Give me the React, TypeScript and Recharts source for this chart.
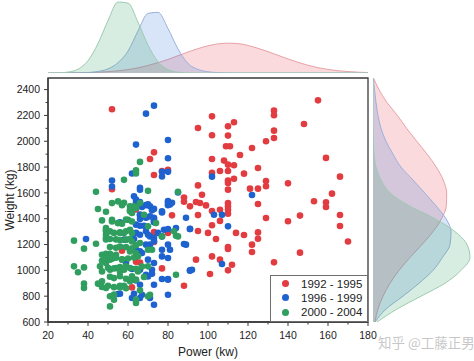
import React from 'react'
import {
  ScatterChart,
  Scatter,
  XAxis,
  YAxis,
  ReferenceArea,
  Legend,
  Label,
  AreaChart,
  Area,
} from 'recharts'

// [power (kw), weight (kg)]
const group1992: [number, number][] = [
  [155, 2317], [133, 2237], [133, 2201], [102, 2193], [148, 2134], [95, 2103], [110, 2116], [113, 2147],
  [102, 2046], [110, 2044], [133, 2082], [133, 2025], [129, 2000], [122, 1948], [109, 1961], [111, 1961],
  [102, 1863], [116, 1894], [108, 1850], [110, 1819], [113, 1814], [110, 1770], [125, 1793], [159, 1871],
  [106, 1770], [102, 1755], [118, 1749], [113, 1710], [110, 1695], [110, 1677], [110, 1625], [95, 1658],
  [97, 1586], [121, 1633], [125, 1633], [129, 1692], [129, 1651], [140, 1674], [166, 1726], [162, 1594],
  [73, 1914], [71, 1863], [73, 1739], [77, 1770], [80, 1778], [52, 2248], [52, 1628],
  [88, 1564], [88, 1532], [91, 1496], [94, 1530], [96, 1522], [99, 1503], [82, 1426], [95, 1428],
  [95, 1305], [80, 1290], [73, 1297], [73, 1220], [100, 1290], [94, 1083], [88, 881], [77, 1015],
  [101, 972], [64, 1472], [57, 1152], [64, 1067], [66, 1060], [62, 868],
  [110, 1522], [110, 1496], [110, 1470], [110, 1439], [102, 1460], [106, 1470], [125, 1514], [153, 1535],
  [159, 1527], [159, 1491], [146, 1424], [166, 1429], [129, 1406], [140, 1380], [166, 1344], [102, 1349],
  [106, 1383], [114, 1290], [118, 1274], [125, 1294], [125, 1245], [104, 1243], [110, 1181], [110, 1165],
  [122, 1199], [122, 1142], [146, 1137], [170, 1224], [102, 1108], [106, 1083], [112, 1044], [110, 1000],
  [133, 1062],
]

const group1996: [number, number][] = [
  [73, 2276], [69, 2214], [64, 1974], [80, 2010], [80, 1868], [52, 1696], [52, 1649], [62, 1750],
  [77, 1763], [80, 1763], [77, 1727], [66, 1639], [66, 1624], [85, 1603], [102, 1726], [122, 1584],
  [63, 1574], [64, 1523], [66, 1505], [69, 1505], [71, 1497], [73, 1476], [77, 1458], [80, 1505],
  [80, 1536], [82, 1523], [89, 1407], [69, 1407], [73, 1407], [73, 1381], [66, 1433], [56, 1373],
  [80, 1522], [81, 1511], [72, 1465], [73, 1398], [73, 1372], [77, 1449], [91, 1320], [78, 1315],
  [80, 1320], [84, 1328], [75, 1290], [77, 1263], [73, 1251], [71, 1263], [73, 1225], [71, 1199],
  [80, 1199], [81, 1160], [77, 1160], [77, 1108], [80, 1096], [89, 1199], [73, 1057], [70, 1083],
  [72, 1005], [72, 974], [77, 933], [80, 933], [73, 889], [92, 1005], [80, 811], [73, 734],
  [71, 786], [64, 1548], [66, 1530], [67, 1491], [70, 1511], [66, 1424], [66, 1398], [69, 1411],
  [71, 1418], [64, 1354], [66, 1346], [68, 1346], [64, 1290], [66, 1276], [69, 1302], [70, 1276],
  [58, 1238], [63, 1243], [64, 1160], [66, 1147], [67, 1134], [69, 1199], [70, 1186], [59, 1057],
  [62, 1011], [66, 1005], [69, 966], [70, 953], [64, 922], [66, 889], [56, 819], [67, 811],
  [66, 786], [62, 786], [39, 1243], [55, 817], [63, 819], [80, 928], [91, 997], [103, 1431],
  [107, 1431], [110, 1341], [107, 1049], [91, 1321], [88, 1204], [91, 1000],
]

const group2000: [number, number][] = [
  [33, 1230], [38, 1168], [33, 1031], [35, 985], [38, 1023], [38, 897], [38, 863], [44, 1206],
  [45, 1475], [49, 1454], [47, 1387], [49, 1328], [49, 1302], [49, 1276], [49, 1250], [52, 1521],
  [55, 1534], [52, 1392], [55, 1366], [56, 1294], [58, 1289], [47, 1121], [49, 1129], [51, 1129],
  [54, 1121], [47, 1075], [49, 1057], [51, 1083], [46, 1031], [47, 992], [51, 1005], [54, 1018],
  [56, 992], [58, 1005], [45, 897], [47, 871], [49, 863], [50, 881], [47, 915], [53, 773],
  [51, 721], [56, 881], [58, 881], [61, 915], [62, 954], [64, 928], [64, 773], [64, 747],
  [66, 845], [70, 799], [68, 948], [60, 1392], [62, 1379], [61, 1470], [63, 1496], [66, 1521],
  [68, 1431], [59, 1237], [62, 1224], [61, 1147], [64, 1134], [57, 1083], [59, 1031], [65, 992],
  [70, 1031], [66, 1212], [70, 1160], [70, 1341], [74, 1366], [77, 1263], [84, 1268], [44, 1608],
  [58, 1701], [66, 1840], [64, 1776], [64, 1750], [70, 1616], [85, 1608], [58, 1523], [57, 1505],
  [61, 1497], [64, 1484], [61, 1457], [62, 1444], [52, 1379], [55, 1367], [57, 1362], [59, 1393],
  [49, 1315], [51, 1302], [53, 1290], [56, 1290], [59, 1302], [61, 1315], [62, 1290], [49, 1240],
  [51, 1243], [54, 1240], [56, 1235], [59, 1238], [61, 1243], [51, 1180], [54, 1175], [56, 1185],
  [59, 1180], [62, 1170], [64, 1195], [49, 1095], [52, 1090], [54, 1098], [57, 1085], [60, 1092],
  [63, 1100], [65, 1110], [50, 1020], [53, 1015], [56, 1025], [58, 1010], [61, 1018], [64, 1012],
  [67, 1030], [51, 950], [53, 940], [56, 955], [59, 935], [62, 945], [53, 870], [56, 868],
  [59, 862], [51, 800], [53, 812], [83, 1302], [85, 1263], [72, 1160], [84, 966], [71, 811],
]

const seriesNames = ['1992 - 1995', '1996 - 1999', '2000 - 2004']
const seriesColors = ['#e23b40', '#1d62cf', '#2f9e5e']
const densityFill = ['#e8464e', '#3c78d8', '#3aa56a']
const densityStroke = ['#e8a2a8', '#9cb1dc', '#9ccbaf']

const xTicks = [20, 30, 40, 50, 60, 70, 80, 90, 100, 110, 120, 130, 140, 150, 160, 170, 180]
const yTicks = [600, 700, 800, 900, 1000, 1100, 1200, 1300, 1400, 1500, 1600, 1700, 1800, 1900, 2000, 2100, 2200, 2300, 2400]

// marginal density along power (top panel)
const topPower = [20, 25, 30, 35, 40, 45, 50, 55, 60, 65, 70, 75, 80, 85, 90, 95, 100, 105, 110, 115, 120, 125, 130, 135, 140, 145, 150, 155, 160, 165, 170, 175, 180]
const topDensity1992 = [0.05, 0.08, 0.12, 0.25, 0.43, 0.8, 1.3, 2.1, 3.3, 5, 7.3, 10.1, 13.2, 16.8, 20.4, 23.7, 26.5, 28.3, 29, 28.6, 26.8, 24, 20.8, 17.2, 13.7, 10.4, 7.5, 5.2, 3.5, 2.2, 1.4, 0.8, 0.46]
const topDensity1996 = [0, 0, 0.05, 0.15, 0.4, 1.5, 4, 10, 21.3, 40.9, 58, 59, 43.3, 23.4, 9.3, 3.5, 1.2, 0.4, 0.1, 0, 0, 0, 0, 0, 0, 0, 0, 0, 0, 0, 0, 0, 0]
const topDensity2000 = [0, 0.15, 0.9, 3.7, 12, 28.6, 51, 69, 68, 49.3, 27, 11, 3.3, 0.8, 0.1, 0, 0, 0, 0, 0, 0, 0, 0, 0, 0, 0, 0, 0, 0, 0, 0, 0, 0]

// marginal density along weight (right panel)
const sideWeight = [600, 700, 800, 900, 1000, 1100, 1200, 1300, 1400, 1500, 1600, 1700, 1800, 1900, 2000, 2100, 2200, 2300, 2400, 2490]
const sideDensity1992 = [2, 5, 10, 17, 26, 37, 49, 60, 68.5, 73.3, 73.7, 70.2, 63.3, 54.1, 43.8, 33.6, 24.4, 14, 6, 0.5]
const sideDensity1996 = [2, 13, 30, 46, 60, 69.5, 77, 78, 73, 63, 51.7, 40, 28, 20, 13, 8, 5, 3, 1.5, 0.3]
const sideDensity2000 = [4, 24, 48, 72, 88, 97, 94, 82, 62, 36, 17, 8, 3, 1, 0.3, 0, 0, 0, 0, 0]

const groups = [group1992, group1996, group2000].map((g) => g.map(([power, weight]) => ({ power, weight })))

const topData = topPower.map((p, i) => ({ p, a: topDensity1992[i], b: topDensity1996[i], c: topDensity2000[i] }))
const sideData = sideWeight.map((w, i) => ({ w, a: sideDensity1992[i], b: sideDensity1996[i], c: sideDensity2000[i] }))

const axisColor = '#3a3a3a'
const textColor = '#222'

function XTick(props: any) {
  const { x, y, payload } = props
  const major = payload.value % 20 === 0
  return (
    <g>
      <line x1={x} x2={x} y1={y} y2={y + (major ? 4 : 2.5)} stroke={axisColor} />
      {major && (
        <text x={x} y={y + 16.5} textAnchor="middle" fontSize={10.5} fill={textColor}>
          {payload.value}
        </text>
      )}
    </g>
  )
}

function YTick(props: any) {
  const { x, y, payload } = props
  const major = payload.value % 200 === 0
  return (
    <g>
      <line x1={x - (major ? 4 : 2.5)} x2={x} y1={y} y2={y} stroke={axisColor} />
      {major && (
        <text x={x - 8} y={y} dy="0.36em" textAnchor="end" fontSize={10.5} fill={textColor}>
          {payload.value}
        </text>
      )}
    </g>
  )
}

function LegendBox(props: any) {
  const { payload } = props
  return (
    <div
      style={{
        width: 98,
        height: 47,
        boxSizing: 'border-box',
        border: '1px solid #6e6e6e',
        background: '#fff',
        paddingTop: 0.5,
      }}
    >
      {(payload || []).map((entry: any) => (
        <div key={entry.value} style={{ display: 'flex', alignItems: 'center', height: 14.3 }}>
          <span
            style={{
              width: 7,
              height: 7,
              borderRadius: '50%',
              background: entry.color,
              marginLeft: 11,
              marginRight: 12,
            }}
          />
          <span style={{ fontSize: 11.5, color: textColor, whiteSpace: 'nowrap' }}>{entry.value}</span>
        </div>
      ))}
    </div>
  )
}

export default function App() {
  const keys = ['a', 'b', 'c']
  return (
    <div
      style={{
        position: 'absolute',
        left: 0,
        top: 0,
        width: 474,
        height: 361,
        background: '#fff',
        fontFamily: '"Liberation Sans", Arial, sans-serif',
        overflow: 'hidden',
      }}
    >
      {/* top marginal density */}
      <div style={{ position: 'absolute', left: 48, top: 0 }}>
        <AreaChart width={320} height={73} data={topData} margin={{ top: 0, right: 0, bottom: 0, left: 0 }}>
          <XAxis type="number" dataKey="p" domain={[20, 180]} hide />
          <YAxis type="number" domain={[0, 71]} hide />
          {keys.map((k, i) => (
            <Area
              key={k}
              type="monotone"
              dataKey={k}
              stroke={densityStroke[i]}
              strokeWidth={1}
              fill={densityFill[i]}
              fillOpacity={0.2}
              dot={false}
              isAnimationActive={false}
            />
          ))}
        </AreaChart>
      </div>

      {/* right marginal density */}
      <div style={{ position: 'absolute', left: 373, top: 78 }}>
        <AreaChart
          layout="vertical"
          width={100}
          height={244}
          data={sideData}
          margin={{ top: 0, right: 0, bottom: 0, left: 0 }}
        >
          <XAxis type="number" domain={[0, 100]} hide />
          <YAxis type="number" dataKey="w" domain={[600, 2490]} reversed hide />
          {keys.map((k, i) => (
            <Area
              key={k}
              type="monotone"
              dataKey={k}
              stroke={densityStroke[i]}
              strokeWidth={1}
              fill={densityFill[i]}
              fillOpacity={0.2}
              dot={false}
              isAnimationActive={false}
            />
          ))}
        </AreaChart>
      </div>

      {/* main scatter */}
      <div style={{ position: 'absolute', left: 0, top: 0 }}>
        <ScatterChart width={474} height={361} margin={{ top: 78, right: 106, bottom: 0, left: 0 }}>
          <XAxis
            type="number"
            dataKey="power"
            domain={[20, 180]}
            ticks={xTicks}
            interval={0}
            tickSize={0}
            tickMargin={0}
            tickLine={false}
            tick={XTick}
            axisLine={{ stroke: axisColor, strokeWidth: 1.3 }}
            height={39}
          >
            <Label value="Power (kw)" position="insideBottom" offset={5} fontSize={12} fill={textColor} />
          </XAxis>
          <YAxis
            type="number"
            dataKey="weight"
            domain={[600, 2490]}
            ticks={yTicks}
            interval={0}
            tickSize={0}
            tickMargin={0}
            tickLine={false}
            tick={YTick}
            axisLine={{ stroke: axisColor, strokeWidth: 1.3 }}
            width={48}
          >
            <Label
              value="Weight (kg)"
              angle={-90}
              position="insideLeft"
              offset={10}
              fontSize={12}
              fill={textColor}
              style={{ textAnchor: 'middle' }}
            />
          </YAxis>
          <ReferenceArea x1={20} x2={180} y1={600} y2={2490} fill="none" stroke={axisColor} strokeWidth={1.3} />
          {groups.map((data, i) => (
            <Scatter
              key={seriesNames[i]}
              name={seriesNames[i]}
              data={data}
              fill={seriesColors[i]}
              isAnimationActive={false}
              shape={(p: any) => <circle cx={p.cx} cy={p.cy} r={3.3} fill={seriesColors[i]} />}
            />
          ))}
          <Legend
            layout="vertical"
            align="center"
            verticalAlign="middle"
            content={LegendBox}
            wrapperStyle={{ left: 270, top: 275, width: 98, height: 47 }}
          />
        </ScatterChart>
      </div>

      <div
        style={{
          position: 'absolute',
          left: 378,
          top: 332,
          fontSize: 13.5,
          color: 'rgba(150,150,150,0.55)',
          fontFamily: '"Noto Sans CJK SC", sans-serif',
          whiteSpace: 'nowrap',
          pointerEvents: 'none',
        }}
      >
        知乎 @工藤正男
      </div>
    </div>
  )
}
